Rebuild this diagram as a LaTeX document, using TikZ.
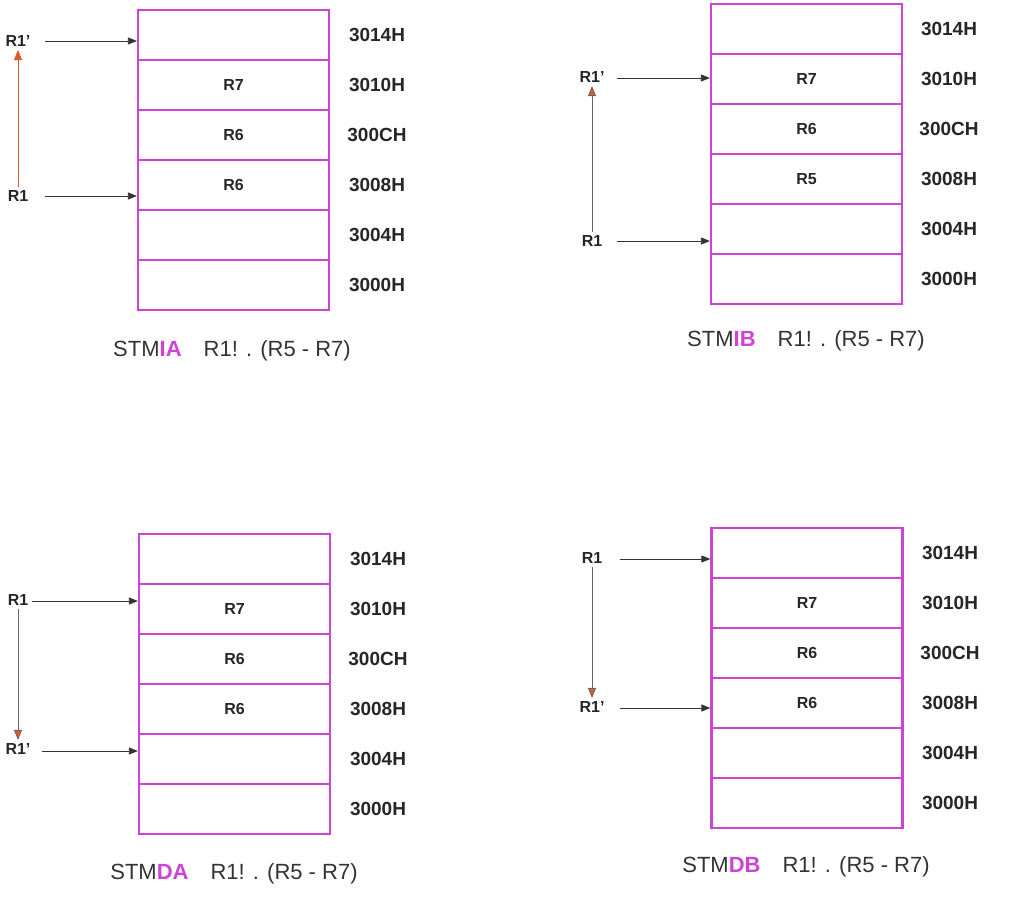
\documentclass[tikz,border=0pt]{standalone}
\usepackage{fontspec}
\setmainfont{Liberation Sans}
\usetikzlibrary{arrows.meta}
\definecolor{cellpink}{RGB}{204,68,214}
\definecolor{tipred}{RGB}{226,88,40}
\tikzset{
  cell/.style={draw=cellpink,line width=2.2pt,minimum width=191pt,minimum height=50pt,inner sep=0pt,font=\fontsize{16}{16}\selectfont\bfseries,text=black!85},
  addr/.style={font=\fontsize{19}{19}\selectfont\bfseries,text=black!85},
  reg/.style={font=\fontsize{16}{16}\selectfont\bfseries,text=black!85},
  caption/.style={font=\fontsize{22}{22}\selectfont,text=black!80},
  ptr/.style={draw=black!80,line width=0.8pt,-{Triangle[length=9pt,width=7pt]}},
  move/.style={draw=black!60,line width=0.8pt,-{Triangle[length=10pt,width=8pt,fill=tipred]}}
}
\newcommand{\mode}[1]{\textcolor{cellpink}{\bfseries #1}}
\begin{document}
\begin{tikzpicture}[x=1pt,y=-1pt]
\useasboundingbox (0,0) rectangle (1009,911);

% STMIA
\foreach \i/\r/\a in {0//3014H,1/R7/3010H,2/R6/300CH,3/R6/3008H,4//3004H,5//3000H}{
  \node[cell] (ia\i) at (233.5,35+50*\i) {\r};
  \node[addr] (iaa\i) at (377,35+50*\i) {\a};
}
\node[caption] (iacap) at (232,351) {STM\mode{IA}\quad R1! . (R5 - R7)};
\node[reg] (iaq) at (18,41) {R1'};
\node[reg] (iap) at (18,196) {R1};
\coordinate (iaq0) at (45,41);
\coordinate (iap0) at (45,196);
\draw[ptr] (iaq0) -- (ia0.west |- iaq0);
\draw[ptr] (iap0) -- (ia3.west |- iap0);
\draw[draw=tipred,line width=0.8pt,-{Triangle[length=10pt,width=8pt]}] (iap.north) -- (iaq.south);

% STMIB
\foreach \i/\r/\a in {0//3014H,1/R7/3010H,2/R6/300CH,3/R5/3008H,4//3004H,5//3000H}{
  \node[cell] (ib\i) at (806.5,29+50*\i) {\r};
  \node[addr] (iba\i) at (949,29+50*\i) {\a};
}
\node[caption] (ibcap) at (806,341) {STM\mode{IB}\quad R1! . (R5 - R7)};
\node[reg] (ibq) at (592,77) {R1'};
\node[reg] (ibp) at (592,241) {R1};
\coordinate (ibq0) at (617,78);
\coordinate (ibp0) at (617,241);
\draw[ptr] (ibq0) -- (ib1.west |- ibq0);
\draw[ptr] (ibp0) -- (ib4.west |- ibp0);
\draw[move] (ibp.north) -- (ibq.south);

% STMDA
\foreach \i/\r/\a in {0//3014H,1/R7/3010H,2/R6/300CH,3/R6/3008H,4//3004H,5//3000H}{
  \node[cell] (da\i) at (234.5,559+50*\i) {\r};
  \node[addr] (daa\i) at (378,559+50*\i) {\a};
}
\node[caption] (dacap) at (234,874) {STM\mode{DA}\quad R1! . (R5 - R7)};
\node[reg] (dap) at (18,600) {R1};
\node[reg] (daq) at (18,749) {R1'};
\coordinate (dap0) at (32,601);
\coordinate (daq0) at (42,751);
\draw[ptr] (dap0) -- (da1.west |- dap0);
\draw[ptr] (daq0) -- (da4.west |- daq0);
\draw[move] (dap.south) -- (daq.north);

% STMDB
\foreach \i/\r/\a in {0//3014H,1/R7/3010H,2/R6/300CH,3/R6/3008H,4//3004H,5//3000H}{
  \node[cell] (db\i) at (807,553+50*\i) {\r};
  \node[addr] (dba\i) at (950,553+50*\i) {\a};
}
\node[caption] (dbcap) at (806,867) {STM\mode{DB}\quad R1! . (R5 - R7)};
\node[reg] (dbp) at (592,558) {R1};
\node[reg] (dbq) at (592,707) {R1'};
\coordinate (dbp0) at (620,559);
\coordinate (dbq0) at (620,708);
\draw[ptr] (dbp0) -- (db0.west |- dbp0);
\draw[ptr] (dbq0) -- (db3.west |- dbq0);
\draw[move] (dbp.south) -- (dbq.north);
\end{tikzpicture}
\end{document}
